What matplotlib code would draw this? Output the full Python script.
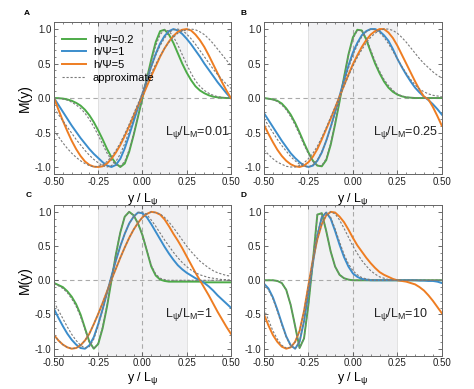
import numpy as np
import matplotlib
matplotlib.use('Agg')
import matplotlib.pyplot as plt

plt.rcParams['font.family'] = ['Liberation Sans', 'DejaVu Sans']
plt.rcParams['mathtext.fontset'] = 'custom'
plt.rcParams['mathtext.rm'] = 'Liberation Sans'
plt.rcParams['mathtext.it'] = 'Liberation Sans:italic'

# sample positions y / L_psi
y_pos = np.linspace(-0.5, 0.5, 41)

ratios = ['0.01', '0.25', '1', '10']
labels = ['h/\u03a8=0.2', 'h/\u03a8=1', 'h/\u03a8=5']
panel_tags = ['A', 'B', 'C', 'D']

# ---- panel A : L_psi/L_M = 0.01
a_green = [0, -0.002, -0.008, -0.02, -0.04, -0.07, -0.11, -0.17, -0.25, -0.35, -0.47, -0.6, -0.74, -0.86, -0.95, -1.0,
           -0.95, -0.78, -0.54, -0.27, 0.0, 0.28, 0.56, 0.81, 0.97, 0.99, 0.92, 0.8, 0.65, 0.5, 0.37, 0.26, 0.17, 0.11,
           0.07, 0.04, 0.02, 0.01, 0.005, 0.0, 0.0]
a_blue = [0, -0.1, -0.2, -0.3, -0.4, -0.49, -0.58, -0.66, -0.74, -0.81, -0.87, -0.93, -0.98, -1.0, -0.97, -0.88,
          -0.73, -0.54, -0.34, -0.14, 0.06, 0.26, 0.46, 0.64, 0.79, 0.9, 0.97, 1.0, 0.98, 0.93, 0.86, 0.78, 0.69, 0.6,
          0.5, 0.41, 0.32, 0.23, 0.15, 0.07, 0.0]
a_orange = [0, -0.17, -0.33, -0.48, -0.62, -0.74, -0.84, -0.92, -0.97, -0.995, -1.0, -0.99, -0.95, -0.88, -0.79,
            -0.68, -0.55, -0.41, -0.26, -0.11, 0.02, 0.17, 0.32, 0.46, 0.6, 0.72, 0.82, 0.9, 0.96, 0.99, 1.0, 0.98, 0.92,
            0.84, 0.74, 0.62, 0.49, 0.36, 0.23, 0.11, 0.0]
a_green_apx = [0, -0.005, -0.015, -0.03, -0.06, -0.1, -0.15, -0.22, -0.31, -0.42, -0.54, -0.67, -0.8, -0.9, -0.97,
               -0.99, -0.92, -0.75, -0.52, -0.26, 0.0, 0.27, 0.53, 0.76, 0.92, 0.99, 0.97, 0.89, 0.77, 0.63, 0.49, 0.36,
               0.25, 0.17, 0.11, 0.07, 0.04, 0.02, 0.01, 0.0, 0.0]
a_blue_apx = [-0.15, -0.24, -0.33, -0.42, -0.51, -0.6, -0.68, -0.76, -0.83, -0.89, -0.94, -0.98, -1.0, -0.98, -0.92,
              -0.81, -0.66, -0.48, -0.3, -0.11, 0.08, 0.27, 0.45, 0.62, 0.76, 0.87, 0.95, 0.99, 1.0, 0.98, 0.93, 0.86,
              0.78, 0.69, 0.6, 0.51, 0.42, 0.34, 0.27, 0.2, 0.14]
a_orange_apx = [-0.47, -0.56, -0.65, -0.73, -0.8, -0.86, -0.91, -0.95, -0.98, -1.0, -0.99, -0.97, -0.92, -0.85, -0.76,
                -0.65, -0.52, -0.38, -0.23, -0.08, 0.07, 0.22, 0.36, 0.49, 0.61, 0.72, 0.81, 0.88, 0.94, 0.97, 0.99,
                1.0, 0.99, 0.96, 0.92, 0.86, 0.79, 0.71, 0.63, 0.55, 0.47]

# ---- panel B : L_psi/L_M = 0.25
b_green = [0.0, -0.01, -0.02, -0.04, -0.08, -0.15, -0.24, -0.36, -0.5, -0.65, -0.79, -0.91, -0.98, -0.99, -0.9,
           -0.68, -0.38, -0.05, 0.3, 0.63, 0.88, 0.99, 0.98, 0.85, 0.67, 0.5, 0.36, 0.24, 0.15, 0.09, 0.05, 0.025,
           0.01, 0.005, 0.0, 0.0, 0.0, 0.0, 0.0, 0.0, 0.0]
b_blue = [-0.22, -0.32, -0.42, -0.52, -0.62, -0.71, -0.8, -0.87, -0.93, -0.98, -1.0, -0.98, -0.91, -0.79, -0.62,
          -0.42, -0.2, 0.03, 0.26, 0.47, 0.66, 0.8, 0.91, 0.97, 1.0, 1.0, 0.97, 0.91, 0.83, 0.71, 0.57, 0.45, 0.34,
          0.24, 0.15, 0.08, 0.02, -0.03, -0.09, -0.16, -0.24]
b_orange = [-0.39, -0.52, -0.64, -0.75, -0.84, -0.91, -0.96, -0.99, -1.0, -0.98, -0.93, -0.85, -0.74, -0.6, -0.45,
            -0.3, -0.14, 0.02, 0.18, 0.34, 0.49, 0.62, 0.74, 0.84, 0.92, 0.97, 1.0, 1.0, 0.95, 0.87, 0.76, 0.63,
            0.5, 0.37, 0.24, 0.12, 0.02, -0.02, -0.13, -0.26, -0.4]
b_green_apx = [0.0, -0.01, -0.025, -0.05, -0.1, -0.17, -0.27, -0.39, -0.53, -0.68, -0.81, -0.92, -0.98, -0.98,
               -0.88, -0.66, -0.36, -0.04, 0.3, 0.62, 0.86, 0.98, 0.98, 0.87, 0.7, 0.53, 0.39, 0.27, 0.18, 0.11, 0.06,
               0.03, 0.015, 0.005, 0.0, 0.0, 0.0, 0.0, 0.0, 0.0, 0.0]
b_blue_apx = [-0.3, -0.4, -0.5, -0.6, -0.69, -0.77, -0.85, -0.91, -0.96, -0.99, -1.0, -0.97, -0.9, -0.78, -0.62,
              -0.43, -0.22, 0.0, 0.22, 0.43, 0.62, 0.77, 0.89, 0.96, 1.0, 0.99, 0.95, 0.88, 0.79, 0.68, 0.57, 0.46,
              0.36, 0.27, 0.19, 0.13, 0.09, 0.06, 0.04, 0.03, 0.02]
b_orange_apx = [-0.75, -0.82, -0.88, -0.93, -0.96, -0.99, -1.0, -1.0, -0.98, -0.94, -0.88, -0.8, -0.7, -0.57, -0.43,
                -0.28, -0.13, 0.02, 0.17, 0.32, 0.46, 0.59, 0.7, 0.8, 0.88, 0.94, 0.98, 1.0, 1.0, 0.98, 0.94, 0.88,
                0.81, 0.73, 0.65, 0.57, 0.5, 0.44, 0.38, 0.33, 0.29]

# ---- panel C : L_psi/L_M = 1
c_green = [-0.04, -0.07, -0.1, -0.16, -0.24, -0.35, -0.5, -0.7, -0.9, -1.0, -0.93, -0.7, -0.38, 0.0, 0.38, 0.7,
           0.93, 1.0, 0.95, 0.83, 0.66, 0.43, 0.2, 0.07, 0.01, -0.01, -0.02, -0.02, -0.02, -0.02, -0.02, -0.02,
           -0.02, -0.02, -0.03, -0.03, -0.03, -0.03, -0.03, -0.03, -0.03]
c_blue = [-0.42, -0.55, -0.67, -0.78, -0.87, -0.94, -0.99, -1.0, -0.95, -0.83, -0.64, -0.42, -0.18, 0.06, 0.29, 0.5,
          0.68, 0.83, 0.93, 0.99, 0.98, 0.92, 0.82, 0.71, 0.6, 0.49, 0.39, 0.3, 0.22, 0.16, 0.11, 0.07, 0.03, 0.0,
          -0.04, -0.09, -0.15, -0.22, -0.28, -0.34, -0.4]
c_orange = [-0.8, -0.88, -0.94, -0.98, -1.0, -0.99, -0.95, -0.88, -0.78, -0.64, -0.49, -0.33, -0.16, 0.01, 0.17, 0.33,
            0.48, 0.62, 0.74, 0.84, 0.92, 0.97, 1.0, 0.99, 0.96, 0.89, 0.79, 0.68, 0.58, 0.47, 0.35, 0.23, 0.11, 0.0,
            -0.11, -0.22, -0.34, -0.46, -0.57, -0.68, -0.78]
c_green_apx = [-0.05, -0.08, -0.12, -0.18, -0.27, -0.38, -0.53, -0.72, -0.91, -1.0, -0.92, -0.68, -0.36, 0.01, 0.39,
               0.71, 0.93, 1.0, 0.95, 0.83, 0.66, 0.44, 0.22, 0.09, 0.03, 0.01, 0.0, 0.0, 0.0, 0.0, 0.0, 0.0, 0.0, 0.0,
               0.0, 0.0, 0.0, 0.0, 0.0, 0.0, 0.0]
c_blue_apx = [-0.32, -0.44, -0.56, -0.68, -0.79, -0.88, -0.95, -0.99, -0.97, -0.86, -0.66, -0.43, -0.18, 0.06, 0.29,
              0.5, 0.68, 0.83, 0.93, 0.99, 1.0, 0.96, 0.88, 0.79, 0.69, 0.59, 0.5, 0.41, 0.33, 0.26, 0.2, 0.15, 0.11,
              0.08, 0.06, 0.04, 0.03, 0.02, 0.01, 0.01, 0.0]
c_orange_apx = [-0.8, -0.88, -0.94, -0.98, -1.0, -0.99, -0.95, -0.88, -0.78, -0.64, -0.49, -0.33, -0.16, 0.01, 0.17,
                0.33, 0.48, 0.62, 0.74, 0.84, 0.92, 0.97, 1.0, 0.99, 0.97, 0.92, 0.85, 0.77, 0.68, 0.59, 0.5, 0.42,
                0.35, 0.28, 0.23, 0.18, 0.14, 0.11, 0.09, 0.07, 0.06]

# ---- panel D : L_psi/L_M = 10
d_green = [0, 0, 0, -0.01, -0.04, -0.14, -0.36, -0.67, -0.99, -0.85, -0.35, 0.28, 0.96, 0.98, 0.72, 0.42, 0.2, 0.08,
           0.03, 0.01, 0.0, 0.0, 0.0, 0.0, 0.0, 0.0, 0.0, 0.0, 0.0, 0.0, 0.0, 0.0, 0.0, 0.0, 0.0, 0.0, 0.0, 0.0,
           0.0, 0.0, 0.0]
d_blue = [-0.05, -0.12, -0.25, -0.43, -0.63, -0.82, -0.95, -1.0, -0.9, -0.6, -0.18, 0.25, 0.65, 0.92, 0.99, 0.9,
          0.72, 0.52, 0.34, 0.2, 0.1, 0.05, 0.02, 0.01, 0.0, 0.0, 0.0, 0.0, 0.0, 0.0, 0.0, 0.0, 0.0, 0.0, 0.0,
          -0.005, -0.005, -0.01, -0.01, -0.02, -0.04]
d_orange = [-0.5, -0.66, -0.8, -0.9, -0.97, -1.0, -0.98, -0.9, -0.74, -0.45, -0.07, 0.3, 0.6, 0.82, 0.95, 1.0, 0.99,
            0.93, 0.85, 0.74, 0.62, 0.51, 0.42, 0.33, 0.25, 0.18, 0.12, 0.08, 0.05, 0.02, 0.0, -0.01, -0.02, -0.04,
            -0.06, -0.1, -0.15, -0.22, -0.3, -0.39, -0.48]
d_green_apx = d_green
d_blue_apx = [-0.06, -0.14, -0.27, -0.45, -0.65, -0.83, -0.96, -1.0, -0.89, -0.58, -0.16, 0.27, 0.67, 0.93, 0.99,
              0.92, 0.75, 0.56, 0.38, 0.24, 0.14, 0.08, 0.04, 0.02, 0.01, 0.0, 0.0, 0.0, 0.0, 0.0, 0.0, 0.0, 0.0,
              0.0, 0.0, 0.0, 0.0, 0.0, 0.0, 0.0, 0.0]
d_orange_apx = [-0.42, -0.58, -0.74, -0.86, -0.95, -0.99, -0.98, -0.9, -0.74, -0.45, -0.07, 0.3, 0.6, 0.82, 0.95,
                1.0, 0.97, 0.88, 0.76, 0.63, 0.5, 0.39, 0.29, 0.21, 0.14, 0.09, 0.05, 0.03, 0.01, 0.0, 0.0, 0.0, 0.0,
                0.0, 0.0, 0.0, 0.0, 0.0, 0.0, 0.0, 0.0]

solid = [[a_green, a_blue, a_orange], [b_green, b_blue, b_orange],
         [c_green, c_blue, c_orange], [d_green, d_blue, d_orange]]
approx = [[a_green_apx, a_blue_apx, a_orange_apx], [b_green_apx, b_blue_apx, b_orange_apx],
          [c_green_apx, c_blue_apx, c_orange_apx], [d_green_apx, d_blue_apx, d_orange_apx]]

colors = ['#4dab48', '#3b8dcc', '#ee7d22']

fig = plt.figure(figsize=(4.74, 3.89), dpi=100)
rects = [[0.114, 0.553, 0.373, 0.39], [0.557, 0.553, 0.375, 0.39],
         [0.114, 0.086, 0.373, 0.387], [0.557, 0.086, 0.375, 0.387]]
tag_pos = [(0.05, 0.962), (0.508, 0.962), (0.055, 0.494), (0.508, 0.494)]

for k in range(4):
    ax = fig.add_axes(rects[k])
    ax.axvspan(-0.25, 0.25, color='#f1f1f3', lw=0, zorder=0)
    ax.axvline(-0.25, color='#dddddd', lw=0.6, zorder=0.5)
    ax.axvline(0.25, color='#dddddd', lw=0.6, zorder=0.5)
    ax.axhline(0, color='#aaaaaa', lw=0.8, ls=(0, (4, 3)), zorder=1)
    ax.axvline(0, color='#aaaaaa', lw=0.8, ls=(0, (4, 3)), zorder=1)

    for j in range(3):
        ax.plot(y_pos, solid[k][j], color=colors[j], lw=1.4, label=labels[j], zorder=2)
    for j in range(3):
        ax.plot(y_pos, approx[k][j], color='#7a7a7a', lw=0.8, ls=(0, (2, 1.6)), zorder=3,
                label='approximate' if j == 0 else None)

    ax.set_xlim(-0.5, 0.5)
    ax.set_ylim(-1.1, 1.1)
    ax.set_xticks([-0.5, -0.25, 0, 0.25, 0.5])
    ax.set_xticklabels(['-0.50', '-0.25', '0.00', '0.25', '0.50'])
    ax.set_yticks([-1.0, -0.5, 0.0, 0.5, 1.0])
    ax.set_yticklabels(['-1.0', '-0.5', '0.0', '0.5', '1.0'])
    ax.minorticks_on()
    ax.tick_params(which='both', direction='in', top=True, right=True, colors='#555555',
                   labelcolor='#222222', labelsize=7, pad=2)
    ax.tick_params(which='major', length=3, width=0.6)
    ax.tick_params(which='minor', length=1.6, width=0.5)
    for s in ax.spines.values():
        s.set_color('#666666')
        s.set_linewidth(0.7)

    ax.set_xlabel(r'y / L$_\mathregular{\psi}$', fontsize=9, labelpad=3 if k < 2 else 1)
    if k in (0, 2):
        ax.set_ylabel('M(y)', fontsize=10, labelpad=2)

    tx = 0.13 if k in (0, 2) else 0.115
    ax.text(tx, -0.5, r'L$_\mathregular{\psi}$/L$_\mathregular{M}$=' + ratios[k], fontsize=9,
            va='center', ha='left', color='#222222')
    fig.text(tag_pos[k][0], tag_pos[k][1], panel_tags[k], fontsize=6, fontweight='bold')

    if k == 0:
        ax.legend(loc='upper left', frameon=False, fontsize=8, handlelength=2.2,
                  borderaxespad=0.3, labelspacing=0.25, handletextpad=0.6,
                  bbox_to_anchor=(0.0, 0.97))

fig.savefig('out.png', dpi=100)
